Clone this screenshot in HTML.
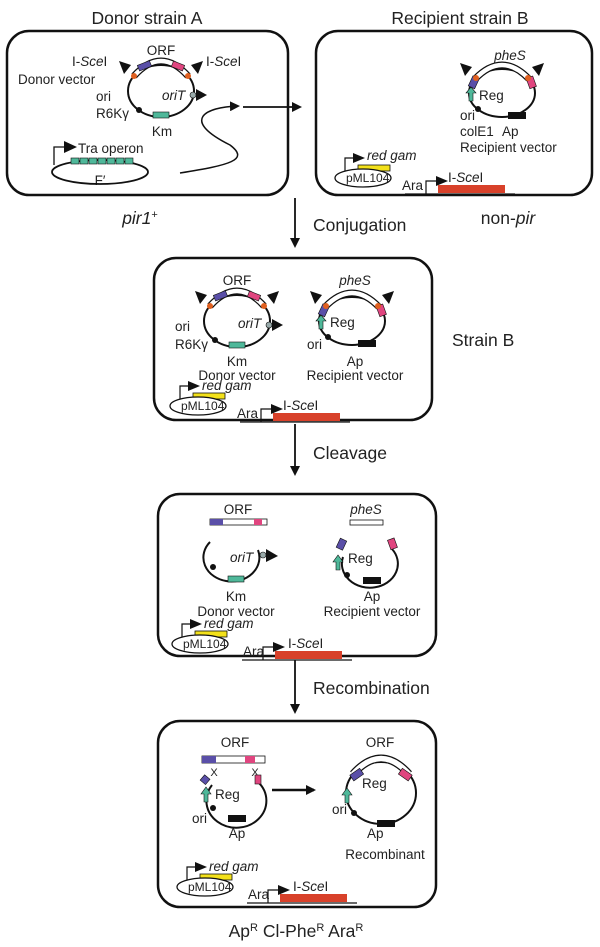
<!DOCTYPE html>
<html><head><meta charset="utf-8"><style>
html,body{margin:0;padding:0;background:#fff}
svg{display:block;font-family:"Liberation Sans",sans-serif}
text{fill:#222}
.t{font-size:13.5px}.h{font-size:17.5px}
</style></head><body>
<svg width="600" height="947" viewBox="0 0 600 947">
<defs>
<marker id="ah" markerWidth="10" markerHeight="10" refX="8" refY="5" orient="auto" markerUnits="userSpaceOnUse"><path d="M0,0 L10,5 L0,10 z" fill="#111"/></marker>
<g id="mod">
<path d="M-18,-6 V-20 H-8" stroke="#111" stroke-width="1.2" fill="none"/><path d="M-10,-25 L2,-20 L-10,-15z" fill="#111"/>
<rect x="-5" y="-13" width="32" height="6" fill="#f3e11a" stroke="#111" stroke-width="0.8"/>
<ellipse cx="0" cy="0" rx="28" ry="9" fill="#fff" stroke="#111" stroke-width="1.3"/>
<path d="M63,16 V3 H74" stroke="#111" stroke-width="1.2" fill="none"/><path d="M73,-2 L85,3 L73,8z" fill="#111"/>
<rect x="75" y="7" width="67" height="8" fill="#d8412a"/>
<line x1="42" y1="16" x2="152" y2="16" stroke="#111" stroke-width="1.3"/>
</g>
<g id="arrL"><path d="M-42,-30 L-30,-26 L-37,-17z" fill="#111"/></g>
<g id="arrR"><path d="M42,-30 L30,-26 L37,-17z" fill="#111"/></g>
</defs>

<g fill="none" stroke="#111" stroke-width="2.5">
<rect x="7" y="31" width="281" height="164" rx="22"/>
<rect x="316" y="31" width="276" height="164" rx="22"/>
<rect x="154" y="258" width="278" height="162" rx="22"/>
<rect x="158" y="494" width="278" height="162" rx="22"/>
<rect x="158" y="721" width="278" height="186" rx="22"/>
</g>

<text class="h" x="147" y="24" text-anchor="middle">Donor strain A</text>
<text class="h" x="460" y="24" text-anchor="middle">Recipient strain B</text>
<text class="h" x="140" y="224" text-anchor="middle" font-style="italic">pir1<tspan font-size="11" dy="-6" font-style="normal">+</tspan></text>
<text class="h" x="508" y="224" text-anchor="middle">non-<tspan font-style="italic">pir</tspan></text>

<line x1="243" y1="107" x2="300" y2="107" stroke="#111" stroke-width="1.8" marker-end="url(#ah)"/>
<path d="M180,173 C230,165 250,160 230,145 C180,120 205,107 238,106" fill="none" stroke="#111" stroke-width="1.5" marker-end="url(#ah)"/>
<line x1="295" y1="198" x2="295" y2="246" stroke="#111" stroke-width="1.8" marker-end="url(#ah)"/>
<text class="h" x="313" y="231">Conjugation</text>
<line x1="295" y1="424" x2="295" y2="474" stroke="#111" stroke-width="1.8" marker-end="url(#ah)"/>
<text class="h" x="313" y="459">Cleavage</text>
<line x1="295" y1="660" x2="295" y2="712" stroke="#111" stroke-width="1.8" marker-end="url(#ah)"/>
<text class="h" x="313" y="694">Recombination</text>
<text class="h" x="452" y="346">Strain B</text>
<text class="h" x="296" y="937" text-anchor="middle">Ap<tspan font-size="11" dy="-6">R</tspan><tspan dy="6"> Cl-Phe</tspan><tspan font-size="11" dy="-6">R</tspan><tspan dy="6"> Ara</tspan><tspan font-size="11" dy="-6">R</tspan></text>

<g transform="translate(161,91)">
<ellipse rx="33" ry="26" fill="none" stroke="#111" stroke-width="2"/>
<path d="M-27,-15 Q0,-45 27,-15" stroke="#111" stroke-width="7" fill="none"/><path d="M-27,-15 Q0,-45 27,-15" stroke="#fff" stroke-width="4.5" fill="none"/>
<rect x="-23" y="-28" width="13" height="6" fill="#5a4fa8" stroke="#111" stroke-width="0.6" transform="rotate(-22 -17 -25)"/>
<rect x="11" y="-28" width="12" height="6" fill="#e0457f" stroke="#111" stroke-width="0.6" transform="rotate(22 17 -25)"/>
<circle cx="-27" cy="-15" r="3" fill="#e06020"/><circle cx="27" cy="-15" r="3" fill="#e06020"/>
<use href="#arrL"/><use href="#arrR"/>
<circle cx="-22" cy="19" r="3" fill="#111"/>
<rect x="-8" y="21" width="16" height="6" fill="#4fb89a" stroke="#111" stroke-width="0.6"/>
<circle cx="32" cy="4" r="3" fill="#9aa" stroke="#111" stroke-width="0.6"/><path d="M35,-2 L46,4 L35,10z" fill="#111"/>
</g>
<g class="t">
<text x="161" y="55" text-anchor="middle">ORF</text>
<text x="72" y="66">I-<tspan font-style="italic">Sce</tspan>I</text>
<text x="206" y="66">I-<tspan font-style="italic">Sce</tspan>I</text>
<text x="18" y="84">Donor vector</text>
<text x="96" y="101">ori</text>
<text x="96" y="118">R6Kγ</text>
<text x="162" y="100" font-style="italic">oriT</text>
<text x="162" y="136" text-anchor="middle">Km</text>
<text x="78" y="153">Tra operon</text>
<text x="100" y="185" text-anchor="middle">F′</text>
</g>
<path d="M54,165 V147 H65" stroke="#111" stroke-width="1.3" fill="none"/><path d="M64,141 L77,147 L64,153z" fill="#111"/>
<ellipse cx="100" cy="172" rx="48" ry="12" fill="none" stroke="#111" stroke-width="1.8"/>
<g fill="#4fb89a" stroke="#111" stroke-width="0.6">
<rect x="71" y="158" width="8" height="6"/><rect x="80" y="158" width="8" height="6"/><rect x="89" y="158" width="8" height="6"/><rect x="98" y="158" width="8" height="6"/><rect x="107" y="158" width="8" height="6"/><rect x="116" y="158" width="8" height="6"/><rect x="125" y="158" width="8" height="6"/></g>

<g id="rec" transform="translate(502,93)">
<ellipse rx="33" ry="24" fill="none" stroke="#111" stroke-width="2"/>
<path d="M-27,-14 Q0,-42 27,-14" stroke="#111" stroke-width="7" fill="none"/><path d="M-27,-14 Q0,-42 27,-14" stroke="#fff" stroke-width="4.5" fill="none"/>
<rect x="-32" y="-16" width="7" height="11" fill="#5a4fa8" stroke="#111" stroke-width="0.6" transform="rotate(25 -28 -10)"/>
<rect x="26" y="-16" width="7" height="11" fill="#e0457f" stroke="#111" stroke-width="0.6" transform="rotate(-20 29 -10)"/>
<circle cx="-26" cy="-15" r="3" fill="#e06020"/><circle cx="26" cy="-15" r="3" fill="#e06020"/>
<use href="#arrL"/><use href="#arrR"/>
<path d="M-33,8 V0 H-36 L-31,-6 L-26,0 H-29 V8z" fill="#4fb89a" stroke="#111" stroke-width="0.6"/>
<circle cx="-24" cy="16" r="3" fill="#111"/>
<rect x="6" y="19" width="18" height="7" fill="#111"/>
</g>
<g class="t">
<text x="510" y="60" text-anchor="middle" font-style="italic">pheS</text>
<text x="479" y="100">Reg</text>
<text x="460" y="120">ori</text>
<text x="460" y="136">colE1</text>
<text x="502" y="136">Ap</text>
<text x="460" y="152">Recipient vector</text>
</g>
<g transform="translate(363,178)"><use href="#mod"/></g>
<g class="t"><text x="367" y="160" font-style="italic">red gam</text><text x="346" y="182" font-size="12">pML104</text><text x="402" y="190">Ara</text><text x="448" y="182">I-<tspan font-style="italic">Sce</tspan>I</text></g>

<g transform="translate(237,321)">
<ellipse rx="33" ry="26" fill="none" stroke="#111" stroke-width="2"/>
<path d="M-27,-15 Q0,-45 27,-15" stroke="#111" stroke-width="7" fill="none"/><path d="M-27,-15 Q0,-45 27,-15" stroke="#fff" stroke-width="4.5" fill="none"/>
<rect x="-23" y="-28" width="13" height="6" fill="#5a4fa8" stroke="#111" stroke-width="0.6" transform="rotate(-22 -17 -25)"/>
<rect x="11" y="-28" width="12" height="6" fill="#e0457f" stroke="#111" stroke-width="0.6" transform="rotate(22 17 -25)"/>
<circle cx="-27" cy="-15" r="3" fill="#e06020"/><circle cx="27" cy="-15" r="3" fill="#e06020"/>
<use href="#arrL"/><use href="#arrR"/>
<circle cx="-22" cy="19" r="3" fill="#111"/>
<rect x="-8" y="21" width="16" height="6" fill="#4fb89a" stroke="#111" stroke-width="0.6"/>
<circle cx="32" cy="4" r="3" fill="#9aa" stroke="#111" stroke-width="0.6"/><path d="M35,-2 L46,4 L35,10z" fill="#111"/>
</g>
<use href="#rec" transform="translate(-150,228)"/>
<g class="t">
<text x="237" y="285" text-anchor="middle">ORF</text>
<text x="355" y="285" text-anchor="middle" font-style="italic">pheS</text>
<text x="175" y="331">ori</text>
<text x="175" y="349">R6Kγ</text>
<text x="238" y="328" font-style="italic">oriT</text>
<text x="330" y="327">Reg</text>
<text x="307" y="349">ori</text>
<text x="237" y="366" text-anchor="middle">Km</text>
<text x="237" y="380" text-anchor="middle">Donor vector</text>
<text x="355" y="366" text-anchor="middle">Ap</text>
<text x="355" y="380" text-anchor="middle">Recipient vector</text>
</g>
<g transform="translate(198,406)"><use href="#mod"/></g>
<g class="t"><text x="202" y="390" font-style="italic">red gam</text><text x="181" y="410" font-size="12">pML104</text><text x="237" y="418">Ara</text><text x="283" y="410">I-<tspan font-style="italic">Sce</tspan>I</text></g>

<rect x="210" y="519" width="57" height="6" fill="#fff" stroke="#111" stroke-width="0.8"/>
<rect x="210" y="519" width="13" height="6" fill="#5a4fa8"/><rect x="254" y="519" width="8" height="6" fill="#e0457f"/>
<rect x="350" y="520" width="33" height="5" fill="#fff" stroke="#111" stroke-width="0.8"/>
<path d="M210,542 A28,24 0 1,0 258,550" fill="none" stroke="#111" stroke-width="2"/>
<circle cx="263" cy="555" r="3" fill="#9aa" stroke="#111" stroke-width="0.6"/><path d="M266,549 L278,556 L266,562z" fill="#111"/>
<circle cx="213" cy="567" r="3" fill="#111"/>
<rect x="228" y="576" width="16" height="6" fill="#4fb89a" stroke="#111" stroke-width="0.6"/>
<path d="M343,557 A28,24 0 1,0 392,549" fill="none" stroke="#111" stroke-width="2"/>
<rect x="338" y="539" width="7" height="10" fill="#5a4fa8" stroke="#111" stroke-width="0.6" transform="rotate(25 341 544)"/>
<rect x="389" y="539" width="7" height="10" fill="#e0457f" stroke="#111" stroke-width="0.6" transform="rotate(-20 392 544)"/>
<path d="M336,570 V562 H333 L338,555 L343,562 H340 V570z" fill="#4fb89a" stroke="#111" stroke-width="0.6"/>
<circle cx="347" cy="575" r="3" fill="#111"/>
<rect x="363" y="577" width="18" height="7" fill="#111"/>
<g class="t">
<text x="238" y="514" text-anchor="middle">ORF</text>
<text x="366" y="514" text-anchor="middle" font-style="italic">pheS</text>
<text x="230" y="562" font-style="italic">oriT</text>
<text x="348" y="563">Reg</text>
<text x="236" y="601" text-anchor="middle">Km</text>
<text x="236" y="616" text-anchor="middle">Donor vector</text>
<text x="372" y="601" text-anchor="middle">Ap</text>
<text x="372" y="616" text-anchor="middle">Recipient vector</text>
</g>
<g transform="translate(200,644)"><use href="#mod"/></g>
<g class="t"><text x="204" y="628" font-style="italic">red gam</text><text x="183" y="648" font-size="12">pML104</text><text x="243" y="656">Ara</text><text x="288" y="648">I-<tspan font-style="italic">Sce</tspan>I</text></g>

<rect x="202" y="756" width="63" height="7" fill="#fff" stroke="#111" stroke-width="0.8"/>
<rect x="202" y="756" width="14" height="7" fill="#5a4fa8"/><rect x="245" y="756" width="10" height="7" fill="#e0457f"/>
<g class="t"><text x="214" y="776" text-anchor="middle" font-size="11">X</text><text x="255" y="776" text-anchor="middle" font-size="11">X</text></g>
<path d="M212,785 A30,27 0 1,0 258,782" fill="none" stroke="#111" stroke-width="2"/>
<rect x="202" y="776" width="7" height="7" fill="#5a4fa8" stroke="#111" stroke-width="0.6" transform="rotate(40 205 779)"/>
<rect x="255" y="775" width="6" height="9" fill="#e0457f" stroke="#111" stroke-width="0.6"/>
<path d="M204,802 V794 H201 L206,787 L211,794 H208 V802z" fill="#4fb89a" stroke="#111" stroke-width="0.6"/>
<circle cx="213" cy="808" r="3" fill="#111"/>
<rect x="228" y="815" width="18" height="7" fill="#111"/>
<line x1="272" y1="790" x2="314" y2="790" stroke="#111" stroke-width="2.5" marker-end="url(#ah)"/>
<g transform="translate(381,793)">
<ellipse rx="35" ry="31" fill="none" stroke="#111" stroke-width="2"/>
<path d="M-28,-19 Q0,-50 28,-19" stroke="#111" stroke-width="8" fill="none"/><path d="M-28,-19 Q0,-50 28,-19" stroke="#fff" stroke-width="5.5" fill="none"/>
<rect x="-30" y="-22" width="12" height="7" fill="#5a4fa8" stroke="#111" stroke-width="0.6" transform="rotate(-35 -24 -18)"/>
<rect x="18" y="-22" width="12" height="7" fill="#e0457f" stroke="#111" stroke-width="0.6" transform="rotate(35 24 -18)"/>
<path d="M-36,10 V2 H-39 L-34,-5 L-29,2 H-32 V10z" fill="#4fb89a" stroke="#111" stroke-width="0.6"/>
<circle cx="-27" cy="20" r="3" fill="#111"/>
<rect x="-4" y="27" width="18" height="7" fill="#111"/>
</g>
<g class="t">
<text x="235" y="747" text-anchor="middle">ORF</text>
<text x="380" y="747" text-anchor="middle">ORF</text>
<text x="215" y="799">Reg</text>
<text x="192" y="823">ori</text>
<text x="237" y="838" text-anchor="middle">Ap</text>
<text x="362" y="788">Reg</text>
<text x="332" y="814">ori</text>
<text x="367" y="838">Ap</text>
<text x="385" y="859" text-anchor="middle">Recombinant</text>
</g>
<g transform="translate(205,887)"><use href="#mod"/></g>
<g class="t"><text x="209" y="871" font-style="italic">red gam</text><text x="188" y="891" font-size="12">pML104</text><text x="248" y="899">Ara</text><text x="293" y="891">I-<tspan font-style="italic">Sce</tspan>I</text></g>
</svg>
</body></html>
